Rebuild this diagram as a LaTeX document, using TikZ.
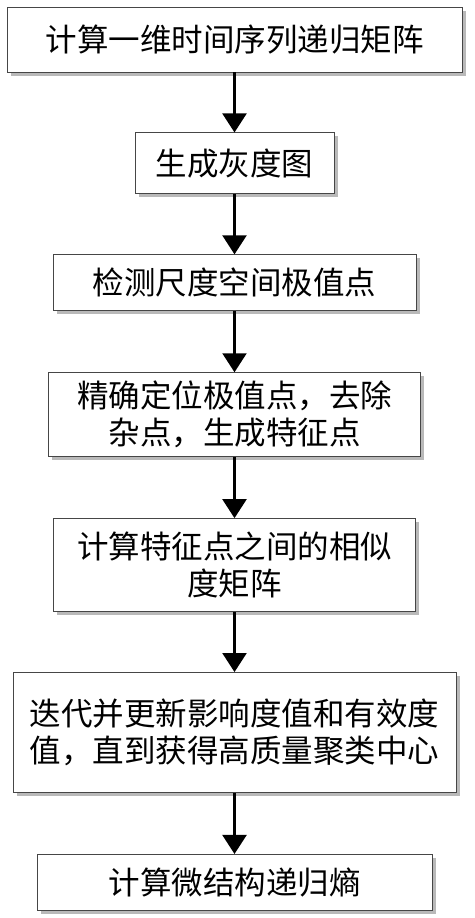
\documentclass[tikz,border=0pt]{standalone}
\usepackage{fontspec}
\newfontfamily\cjk{Noto Sans CJK SC}
\usetikzlibrary{arrows.meta, positioning, shadows}
\definecolor{boxline}{RGB}{70, 70, 70}
\tikzset{
	stepbox/.style={rectangle, draw=boxline, line width=0.9pt, fill=white, align=center, inner sep=0pt, font=\cjk\fontsize{31.5}{37}\selectfont, drop shadow={shadow xshift=3.5pt, shadow yshift=-3.5pt, fill=gray!55, opacity=1}},
	arrow/.style={-{Triangle[width=24pt, length=19pt]}, line width=2.2pt, draw=black},
}

\begin{document}
\begin{tikzpicture}[x=1pt, y=1pt, node distance=60pt]
		\useasboundingbox (0,0) rectangle (474,-918);
		\node[stepbox, minimum width=455pt, minimum height=65pt] (rpmat) at (234.5,-39.5) {计算一维时间序列递归矩阵};
		\node[stepbox, below=of rpmat, minimum width=199pt, minimum height=61pt] (gray) {生成灰度图};
		\node[stepbox, below=of gray, minimum width=363pt, minimum height=56pt] (detect) {检测尺度空间极值点};
		\node[stepbox, below=61pt of detect, minimum width=372pt, minimum height=84pt] (locate) {精确定位极值点，去除\\杂点，生成特征点};
		\node[stepbox, below=61pt of locate, minimum width=362pt, minimum height=93pt] (simil) {计算特征点之间的相似\\度矩阵};
		\node[stepbox, below=of simil, minimum width=443pt, minimum height=120pt] (iter) {迭代并更新影响度值和有效度\\值，直到获得高质量聚类中心};
		\node[stepbox, below=61pt of iter, minimum width=395pt, minimum height=56pt] (entropy) {计算微结构递归熵};
		\draw[arrow] (rpmat) -- (gray);
		\draw[arrow] (gray) -- (detect);
		\draw[arrow] (detect) -- (locate);
		\draw[arrow] (locate) -- (simil);
		\draw[arrow] (simil) -- (iter);
		\draw[arrow] (iter) -- (entropy);
	\end{tikzpicture}
\end{document}
